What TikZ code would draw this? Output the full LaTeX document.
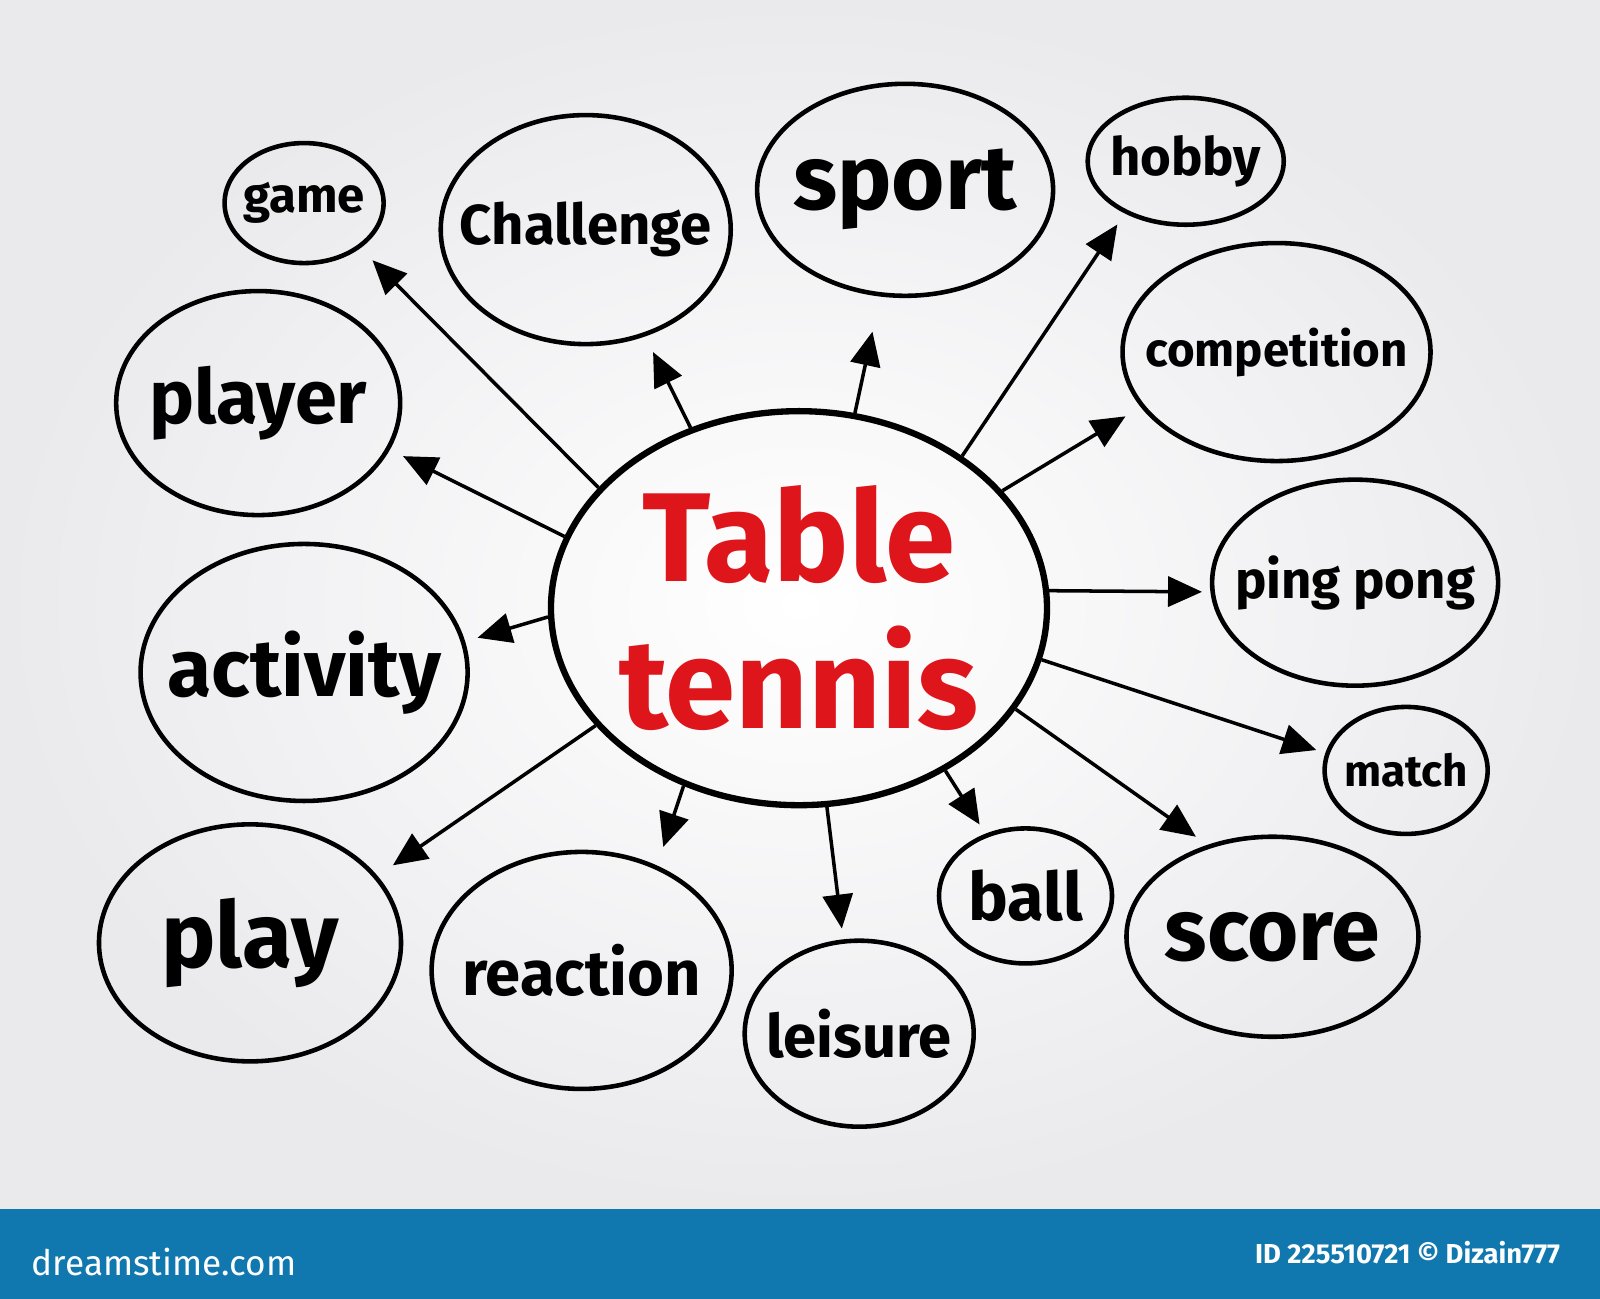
\documentclass[tikz,border=0pt]{standalone}
\usepackage{fontspec}
\setmainfont{Fira Sans}
\usetikzlibrary{arrows.meta,shapes.geometric}
\definecolor{word_red}{RGB}{222,22,28}
\definecolor{bar_blue}{RGB}{16,120,175}
\definecolor{back_gray}{RGB}{234,234,237}
\newcommand{\nw}[1]{\makebox[0pt]{#1}}

\begin{document}
\begin{tikzpicture}[->,line width=1pt,>={Triangle[length=3.4mm,width=3mm]},x=0.10204mm,y=-0.10204mm]
    \tikzstyle{bub}=[draw=black, ellipse, inner sep=0pt, line width=1.3pt, text=black]
    \tikzstyle{hub}=[style=bub, line width=1.8pt, text=word_red]
    \tikzset{fsz/.style={font=\bfseries\fontsize{#1}{#1}\selectfont}}

    % background and banner
    \useasboundingbox (0,0) rectangle (1568,1273);
    \shade[-, inner color=white, outer color=back_gray] (0,0) rectangle (1568,1185);
    \fill[-, bar_blue] (0,1185) rectangle (1568,1273);
    \node[text=white, font=\fontsize{10}{12}\selectfont, anchor=west] (site) at (18,1237) {dreamstime.com};
    \node[text=white, font=\bfseries\fontsize{7.8}{9}\selectfont, anchor=east] (id) at (1542,1228) {ID 225510721 © Dizain777};

    \node[hub, minimum width=49.6mm, minimum height=39.4mm, align=center, font=\bfseries\fontsize{36}{42}\selectfont] (tt) at (783,596) {\nw{Table}\\\nw{tennis}};

    \node[bub, minimum width=15.9mm, minimum height=12mm, fsz=14]        (game)        at (298,199)  {\nw{game}};
    \node[bub, minimum width=29mm, minimum height=22.9mm, fsz=16]        (challenge)   at (574,225)  {\nw{Challenge}};
    \node[bub, minimum width=29.6mm, minimum height=21.2mm, fsz=26]      (sport)       at (887,186)  {\nw{sport}};
    \node[bub, minimum width=19.6mm, minimum height=12.7mm, fsz=15]      (hobby)       at (1162,158) {\nw{hobby}};
    \node[bub, minimum width=30.8mm, minimum height=21.8mm, fsz=13.5]    (competition) at (1251,345) {\nw{competition}};
    \node[bub, minimum width=28.6mm, minimum height=20.6mm, fsz=15]      (pingpong)    at (1328,571) {\nw{ping pong}};
    \node[bub, minimum width=16.3mm, minimum height=12.7mm, fsz=12.5]    (match)       at (1378,755) {\nw{match}};
    \node[bub, minimum width=29.2mm, minimum height=20mm, fsz=25]        (score)       at (1247,918) {\nw{score}};
    \node[bub, minimum width=17.3mm, minimum height=13.5mm, fsz=19]      (ball)        at (1005,878) {\nw{ball}};
    \node[bub, minimum width=22.9mm, minimum height=18.6mm, fsz=17]      (leisure)     at (842,1013) {\nw{leisure}};
    \node[bub, minimum width=30mm, minimum height=23.7mm, fsz=18]        (reaction)    at (570,951)  {\nw{reaction}};
    \node[bub, minimum width=30.2mm, minimum height=23.7mm, fsz=26]      (play)        at (245,924)  {\nw{play}};
    \node[bub, minimum width=32.7mm, minimum height=25.7mm, fsz=23]      (activity)    at (298,659)  {\nw{activity}};
    \node[bub, minimum width=28.4mm, minimum height=22.4mm, fsz=21.5]    (player)      at (253,395)  {\nw{player}};

    % arrow tips stop short of the bubbles
    \coordinate (gameTip)        at (365,255);
    \coordinate (challengeTip)   at (640,345);
    \coordinate (sportTip)       at (855,325);
    \coordinate (hobbyTip)       at (1095,220);
    \coordinate (competitionTip) at (1103,408);
    \coordinate (pingpongTip)    at (1178,580);
    \coordinate (matchTip)       at (1290,735);
    \coordinate (scoreTip)       at (1172,820);
    \coordinate (ballTip)        at (960,808);
    \coordinate (leisureTip)     at (825,910);
    \coordinate (reactionTip)    at (650,830);
    \coordinate (playTip)        at (385,848);
    \coordinate (activityTip)    at (468,625);
    \coordinate (playerTip)      at (395,447);

    \path
     (tt.149) edge (gameTip)
     (tt.121) edge (challengeTip)
     (tt.74)  edge (sportTip)
     (tt.43)  edge (hobbyTip)
     (tt.30)  edge (competitionTip)
     (tt.4)   edge (pingpongTip)
     (tt.348) edge (matchTip)
     (tt.335) edge (scoreTip)
     (tt.312) edge (ballTip)
     (tt.278) edge (leisureTip)
     (tt.237) edge (reactionTip)
     (tt.210) edge (playTip)
     (tt.182) edge (activityTip)
     (tt.163) edge (playerTip)
     ;
\end{tikzpicture}
\end{document}
